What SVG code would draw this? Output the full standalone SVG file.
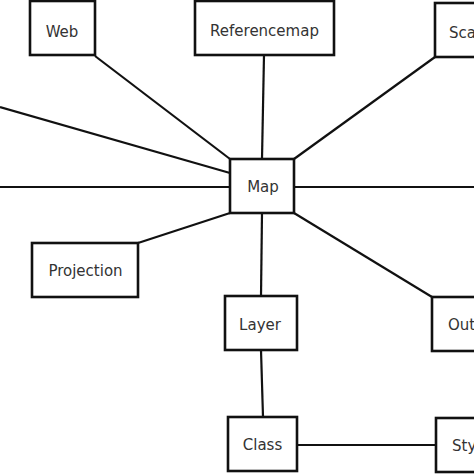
<svg xmlns="http://www.w3.org/2000/svg" width="474" height="474" viewBox="0 0 474 474">
<style>
.box{fill:#fff;stroke:#111;stroke-width:2.6}
.lbl{font-family:"DejaVu Sans",Verdana,sans-serif;font-size:15px;fill:#333;text-anchor:middle}
.st{text-anchor:start}
.ln{stroke:#111;stroke-width:2.2;fill:none}
</style>
<rect width="474" height="474" fill="#fff"/>
<g id="connectors">
<line class="ln" x1="95" y1="56" x2="230" y2="159"/>
<line class="ln" x1="0" y1="107" x2="230" y2="173"/>
<line class="ln" x1="0" y1="187" x2="230" y2="187"/>
<line class="ln" x1="138" y1="243" x2="230" y2="213"/>
<line class="ln" x1="264" y1="55" x2="262" y2="159"/>
<line class="ln" x1="435" y1="57" x2="294" y2="159"/>
<line class="ln" x1="294" y1="187" x2="474" y2="187"/>
<line class="ln" x1="294" y1="213" x2="432" y2="297"/>
<line class="ln" x1="262" y1="213" x2="261" y2="296"/>
<line class="ln" x1="261" y1="350" x2="263" y2="417"/>
<line class="ln" x1="297" y1="445" x2="436" y2="445"/>
</g>
<g id="web"><rect class="box" x="30" y="1" width="65" height="54"/><text class="lbl" x="62" y="36.5">Web</text></g>
<g id="referencemap"><rect class="box" x="195" y="1" width="139" height="54"/><text class="lbl" x="264.5" y="35.5">Referencemap</text></g>
<g id="scale"><rect class="box" x="435" y="3" width="50" height="54"/><text class="lbl st" x="449" y="37.5">Scale</text></g>
<g id="map"><rect class="box" x="230" y="159" width="64" height="54"/><text class="lbl" x="263" y="191.5">Map</text></g>
<g id="projection"><rect class="box" x="32" y="243" width="106" height="54"/><text class="lbl" x="85.5" y="276">Projection</text></g>
<g id="layer"><rect class="box" x="225" y="296" width="72" height="54"/><text class="lbl" x="260" y="329.5">Layer</text></g>
<g id="output"><rect class="box" x="432" y="297" width="60" height="54"/><text class="lbl st" x="448" y="329.5">Output</text></g>
<g id="class"><rect class="box" x="228" y="417" width="69" height="54"/><text class="lbl" x="262.5" y="450">Class</text></g>
<g id="style"><rect class="box" x="436" y="418" width="60" height="54"/><text class="lbl st" x="452" y="450.5">Style</text></g>
</svg>
